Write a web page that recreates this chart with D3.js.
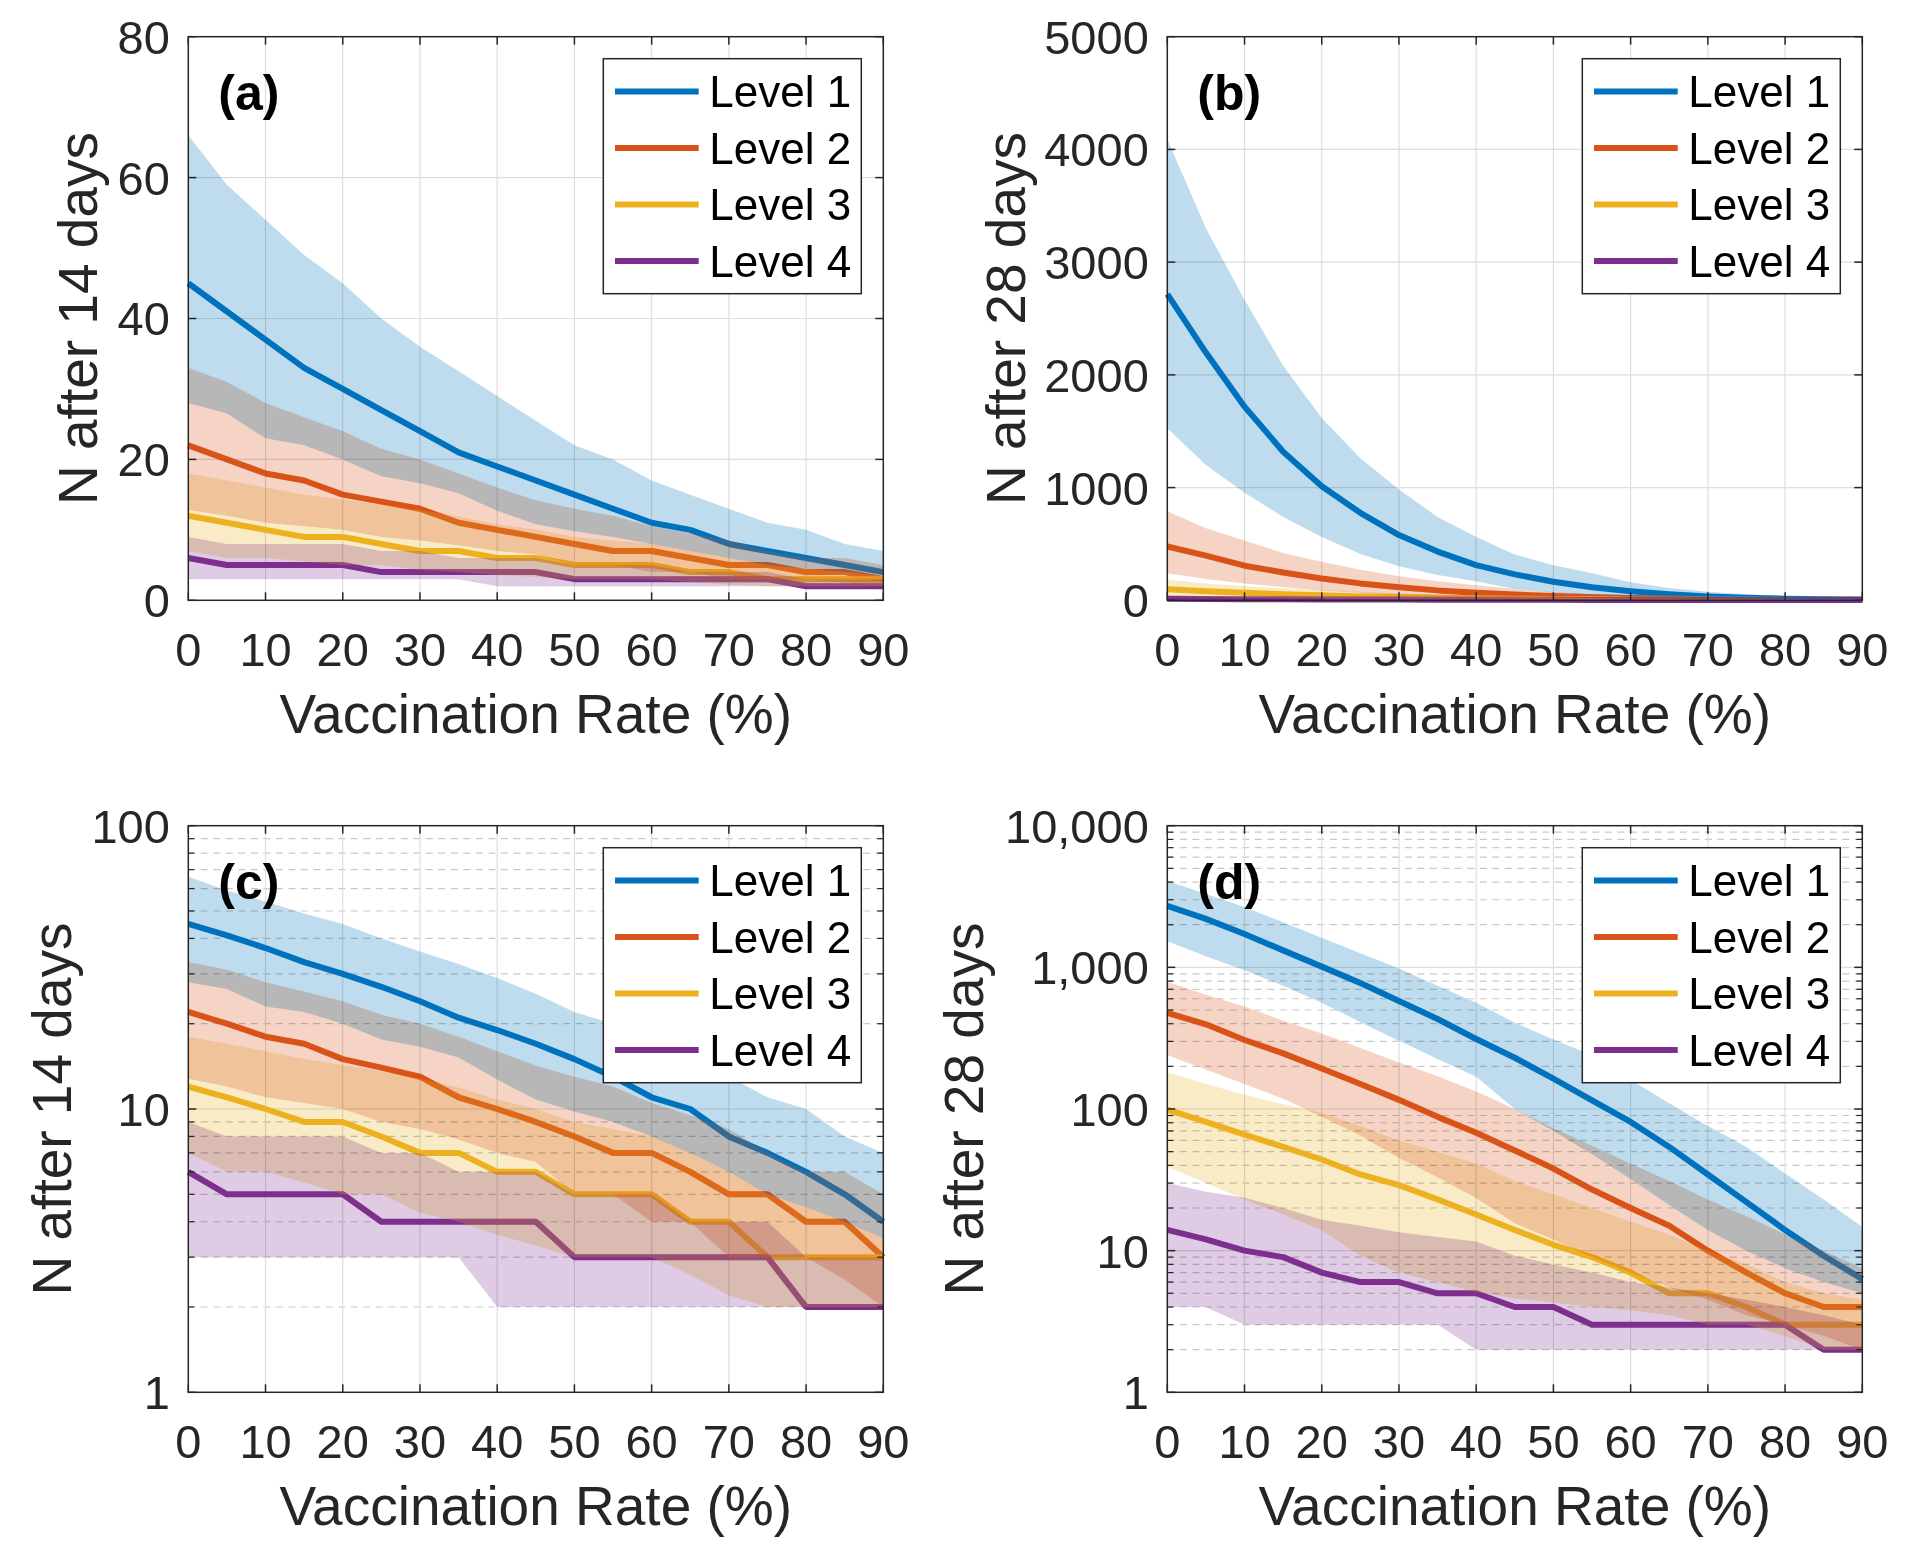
<!DOCTYPE html>
<html>
<head>
<meta charset="utf-8">
<script src="https://cdn.jsdelivr.net/npm/d3@7"></script>
<style>
  body { margin: 0; background: #fff; }
  text { font-family: "Liberation Sans", Arial, Helvetica, sans-serif; }
</style>
</head>
<body>
<svg width="1909" height="1548"></svg>
<script>
// vaccination rate (%) on the x axis
const rates = [0, 5, 10, 15, 20, 25, 30, 35, 40, 45, 50, 55, 60, 65, 70, 75, 80, 85, 90];
const levels = ['Level 1', 'Level 2', 'Level 3', 'Level 4'];
const colors = ['#0072BD', '#D95319', '#EDB120', '#7E2F8E'];
const xTicks = [0, 10, 20, 30, 40, 50, 60, 70, 80, 90];

// N after 14 days: median and band limits per level
const mean14L1 = [45, 41, 37, 33, 30, 27, 24, 21, 19, 17, 15, 13, 11, 10, 8, 7, 6, 5, 4];
const mean14L2 = [22, 20, 18, 17, 15, 14, 13, 11, 10, 9, 8, 7, 7, 6, 5, 5, 4, 4, 3];
const mean14L3 = [12, 11, 10, 9, 9, 8, 7, 7, 6, 6, 5, 5, 5, 4, 4, 3, 3, 3, 3];
const mean14L4 = [6, 5, 5, 5, 5, 4, 4, 4, 4, 4, 3, 3, 3, 3, 3, 3, 2, 2, 2];
const upper14L1 = [66, 59, 54, 49, 45, 40, 36, 32.5, 29, 25.5, 22, 20, 17, 15, 13, 11, 10, 8, 7];
const upper14L2 = [33, 31, 28, 26, 24, 21.5, 20, 18, 16, 14.2, 13, 12, 10.5, 9.5, 8.5, 7, 6, 6, 5];
const upper14L3 = [18, 17, 16, 15, 14.3, 13.6, 12.8, 11.9, 10.8, 10, 9, 8.5, 8, 7, 6, 5, 4.5, 4, 3.5];
const upper14L4 = [9, 8, 8, 8, 8, 7, 7, 6, 6, 6, 5, 5, 5, 4, 4, 4, 3, 3, 3];
const lower14L1 = [28, 26.5, 23, 22, 20, 17.6, 16.6, 15.2, 12.7, 10.8, 9.8, 9, 8, 7, 6, 5, 4.5, 4, 3.5];
const lower14L2 = [12.8, 12, 11, 10.5, 10, 9, 8.5, 7.8, 7, 6.5, 5, 5, 4, 4, 3, 3, 3, 2.5, 2];
const lower14L3 = [7, 6, 6, 5.5, 5, 5, 4.3, 4, 3.6, 3.3, 3, 3, 3, 2.6, 2.2, 2, 2, 2, 2];
const lower14L4 = [3, 3, 3, 3, 3, 3, 3, 3, 2, 2, 2, 2, 2, 2, 2, 2, 2, 2, 2];

// N after 28 days
const mean28L1 = [2716, 2198, 1718, 1318, 1012, 776, 579, 432, 312, 230, 164, 115, 81, 54, 34.5, 22, 14, 9.2, 6.3];
const mean28L2 = [477, 396, 307, 247, 193, 150, 116, 88, 68, 51, 38, 27, 20, 15, 10, 7, 5, 4, 4];
const mean28L3 = [99, 81, 66, 54, 44, 34.5, 29, 23, 18, 14, 11, 9, 7, 5, 5, 4, 3, 3, 3];
const mean28L4 = [14, 12, 10, 9, 7, 6, 6, 5, 5, 4, 4, 3, 3, 3, 3, 3, 3, 2, 2];
const upper28L1 = [4090, 3300, 2666, 2080, 1618, 1260, 982, 740, 562, 407, 310, 240, 160, 110, 76, 54, 35, 23, 14.7];
const upper28L2 = [791, 640, 530, 420, 341, 270, 213, 170, 133, 100, 73, 55, 41, 31, 23, 17.5, 13, 10, 7.5];
const upper28L3 = [182, 150, 126, 108, 94, 76, 60, 50, 41, 31, 25, 20, 16, 13, 10, 8, 6, 5, 4.5];
const upper28L4 = [30, 26, 23.6, 20, 16.5, 15, 13.5, 12.5, 11.6, 9.2, 8, 7, 6, 5.5, 5, 4.5, 4, 3.5, 3];
const lower28L1 = [1527, 1200, 954, 740, 562, 410, 303, 225, 169, 100, 70, 48, 32, 21, 14, 10, 7.5, 6, 5];
const lower28L2 = [240, 190, 150, 118, 88, 65, 45, 33, 23.5, 15.6, 12, 9, 7, 5.5, 4.5, 3.5, 3, 2.5, 2];
const lower28L3 = [39, 30, 23, 18, 14, 9.2, 7, 6, 5.1, 4.6, 4.3, 4, 3.8, 3.5, 3, 3, 2.5, 2, 2];
const lower28L4 = [4, 4, 3, 3, 3, 3, 3, 3, 2, 2, 2, 2, 2, 2, 2, 2, 2, 2, 2];

const mean14 = [mean14L1, mean14L2, mean14L3, mean14L4];
const upper14 = [upper14L1, upper14L2, upper14L3, upper14L4];
const lower14 = [lower14L1, lower14L2, lower14L3, lower14L4];
const mean28 = [mean28L1, mean28L2, mean28L3, mean28L4];
const upper28 = [upper28L1, upper28L2, upper28L3, upper28L4];
const lower28 = [lower28L1, lower28L2, lower28L3, lower28L4];

const svg = d3.select('svg');
const defs = svg.append('defs');

const axisColor = '#262626';
const plotW = 695;
const lefts = [188.3, 1167.3];
const rows = [{ top: 36.7, bottom: 600.3 }, { top: 825.7, bottom: 1392.3 }];

const panels = [
    { id: 'a', col: 0, row: 0, log: false, domain: [0, 80], yTicks: [0, 20, 40, 60, 80],
      mean: mean14, upper: upper14, lower: lower14, ylabel: 'N after 14 days', ylabelX: 97 },
    { id: 'b', col: 1, row: 0, log: false, domain: [0, 5000], yTicks: [0, 1000, 2000, 3000, 4000, 5000],
      mean: mean28, upper: upper28, lower: lower28, ylabel: 'N after 28 days', ylabelX: 1025 },
    { id: 'c', col: 0, row: 1, log: true, domain: [1, 100], yTicks: [1, 10, 100],
      mean: mean14, upper: upper14, lower: lower14, ylabel: 'N after 14 days', ylabelX: 71 },
    { id: 'd', col: 1, row: 1, log: true, domain: [1, 10000], yTicks: [1, 10, 100, 1000, 10000],
      mean: mean28, upper: upper28, lower: lower28, ylabel: 'N after 28 days', ylabelX: 983 }
];

const drawPanel = p => {
    const left = lefts[p.col];
    const right = left + plotW;
    const { top, bottom } = rows[p.row];
    const g = svg.append('g');

    const x = d3.scaleLinear().domain([0, 90]).range([left, right]);
    const y = (p.log ? d3.scaleLog() : d3.scaleLinear()).domain(p.domain).range([bottom, top]);

    g.append('rect')
        .attr('x', left).attr('y', top)
        .attr('width', plotW).attr('height', bottom - top)
        .attr('fill', '#fff');

    // minor log grid
    let minor = [];
    if (p.log) {
        const d0 = Math.log10(p.domain[0]);
        const d1 = Math.log10(p.domain[1]);
        for (let k = d0; k < d1; k++) {
            for (let m = 2; m <= 9; m++) minor.push(m * Math.pow(10, k));
        }
    }
    g.selectAll('line.minor').data(minor).enter().append('line')
        .attr('x1', left).attr('x2', right)
        .attr('y1', d => y(d)).attr('y2', d => y(d))
        .attr('stroke', '#c9c9c9').attr('stroke-width', 1.2)
        .attr('stroke-dasharray', '7,5.5');

    // major grid
    g.selectAll('line.gx').data(xTicks.slice(1, -1)).enter().append('line')
        .attr('x1', d => x(d)).attr('x2', d => x(d))
        .attr('y1', top).attr('y2', bottom)
        .attr('stroke', '#dedede').attr('stroke-width', 1.2);
    g.selectAll('line.gy').data(p.yTicks.slice(1, -1)).enter().append('line')
        .attr('x1', left).attr('x2', right)
        .attr('y1', d => y(d)).attr('y2', d => y(d))
        .attr('stroke', '#dedede').attr('stroke-width', 1.2);

    const area = d3.area()
        .x((d, i) => x(rates[i]))
        .y0(d => y(d[0]))
        .y1(d => y(d[1]));
    const line = d3.line()
        .x((d, i) => x(rates[i]))
        .y(d => y(d));
    const bands = p.lower.map((lo, k) => lo.map((v, i) => [v, p.upper[k][i]]));

    // bands: multiply keeps the overlap colour independent of order
    g.selectAll('path.band').data(bands).enter().append('path')
        .attr('d', d => area(d))
        .attr('fill', (d, k) => colors[k])
        .attr('fill-opacity', 0.25)
        .style('mix-blend-mode', 'multiply');

    g.selectAll('path.mean').data(p.mean).enter().append('path')
        .attr('d', d => line(d))
        .attr('fill', 'none')
        .attr('stroke', (d, k) => colors[k])
        .attr('stroke-width', 6)
        .attr('stroke-linejoin', 'round');

    // other levels' bands lie over each line, as in the source figure
    p.mean.forEach((m, k) => {
        const id = `mask-${p.id}-${k}`;
        defs.append('mask')
            .attr('id', id)
            .attr('maskUnits', 'userSpaceOnUse')
            .attr('x', 0).attr('y', 0).attr('width', 1909).attr('height', 1548)
            .append('path')
                .attr('d', line(m))
                .attr('fill', 'none')
                .attr('stroke', '#fff')
                .attr('stroke-width', 6)
                .attr('stroke-linejoin', 'round');
        g.append('g').attr('mask', `url(#${id})`)
            .selectAll('path').data(bands.filter((b, j) => j !== k)).enter().append('path')
                .attr('d', d => area(d))
                .attr('fill', d => colors[bands.indexOf(d)])
                .attr('fill-opacity', 0.25);
    });

    // box and ticks
    g.append('rect')
        .attr('x', left).attr('y', top)
        .attr('width', plotW).attr('height', bottom - top)
        .attr('fill', 'none').attr('stroke', axisColor).attr('stroke-width', 1.5);

    const tickLen = 8;
    const minorLen = 6;
    xTicks.forEach(t => {
        g.append('line').attr('x1', x(t)).attr('x2', x(t)).attr('y1', bottom).attr('y2', bottom - tickLen)
            .attr('stroke', axisColor).attr('stroke-width', 1.5);
        g.append('line').attr('x1', x(t)).attr('x2', x(t)).attr('y1', top).attr('y2', top + tickLen)
            .attr('stroke', axisColor).attr('stroke-width', 1.5);
    });
    p.yTicks.forEach(t => {
        g.append('line').attr('x1', left).attr('x2', left + tickLen).attr('y1', y(t)).attr('y2', y(t))
            .attr('stroke', axisColor).attr('stroke-width', 1.5);
        g.append('line').attr('x1', right).attr('x2', right - tickLen).attr('y1', y(t)).attr('y2', y(t))
            .attr('stroke', axisColor).attr('stroke-width', 1.5);
    });
    minor.forEach(t => {
        g.append('line').attr('x1', left).attr('x2', left + minorLen).attr('y1', y(t)).attr('y2', y(t))
            .attr('stroke', axisColor).attr('stroke-width', 1.2);
        g.append('line').attr('x1', right).attr('x2', right - minorLen).attr('y1', y(t)).attr('y2', y(t))
            .attr('stroke', axisColor).attr('stroke-width', 1.2);
    });

    // tick labels
    g.selectAll('text.xt').data(xTicks).enter().append('text')
        .attr('x', d => x(d)).attr('y', bottom + 66)
        .attr('text-anchor', 'middle')
        .attr('font-size', 47).attr('fill', axisColor)
        .text(d => d);
    const fmt = p.log ? d3.format(',') : d3.format('d');
    g.selectAll('text.yt').data(p.yTicks).enter().append('text')
        .attr('x', left - 18.5).attr('y', d => y(d))
        .attr('dy', '0.36em')
        .attr('text-anchor', 'end')
        .attr('font-size', 47).attr('fill', axisColor)
        .text(d => fmt(d));

    // axis labels
    g.append('text')
        .attr('x', (left + right) / 2).attr('y', bottom + 133)
        .attr('text-anchor', 'middle')
        .attr('font-size', 55).attr('fill', axisColor)
        .text('Vaccination Rate (%)');
    g.append('text')
        .attr('transform', `translate(${p.ylabelX},${(top + bottom) / 2}) rotate(-90)`)
        .attr('text-anchor', 'middle')
        .attr('font-size', 55).attr('fill', axisColor)
        .text(p.ylabel);

    // panel letter
    g.append('text')
        .attr('x', left + 30).attr('y', top + 73)
        .attr('font-size', 50).attr('font-weight', 'bold').attr('fill', '#000')
        .text(`(${p.id})`);

    // legend
    const lw = 258, lh = 235;
    const lx = right - 22 - lw;
    const ly = top + 22;
    const leg = g.append('g');
    leg.append('rect')
        .attr('x', lx).attr('y', ly).attr('width', lw).attr('height', lh)
        .attr('fill', '#fff').attr('stroke', axisColor).attr('stroke-width', 1.5);
    const items = leg.selectAll('g.item').data(levels).enter().append('g')
        .attr('transform', (d, i) => `translate(${lx},${ly + 32.7 + 56.5 * i})`);
    items.append('line')
        .attr('x1', 11.7).attr('x2', 95.4)
        .attr('stroke', (d, i) => colors[i]).attr('stroke-width', 6);
    items.append('text')
        .attr('x', 106).attr('y', 16)
        .attr('font-size', 44).attr('fill', '#000')
        .text(d => d);
};

panels.forEach(drawPanel);
</script>
</body>
</html>
